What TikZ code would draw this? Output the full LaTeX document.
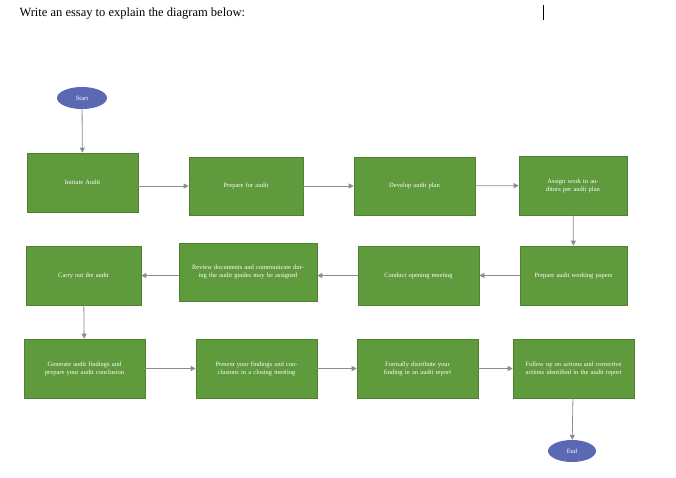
\documentclass[tikz,border=0pt]{standalone}
\usepackage{fontspec}
\setmainfont{Liberation Serif}
\usetikzlibrary{arrows.meta,shapes.geometric}
\definecolor{gbox}{HTML}{5F9A3D}
\definecolor{gedge}{HTML}{4E8230}
\definecolor{oval}{HTML}{5B69B5}
\definecolor{arr}{HTML}{8C8C8C}
\tikzset{x=1pt,y=-1pt,
 boxst/.style={fill=gbox,draw=gedge,line width=0.6pt,text=white,font=\fontsize{6.5}{8}\selectfont,align=center,inner sep=1pt},
 ovalst/.style={ellipse,fill=oval,draw=none,text=white,font=\fontsize{6.5}{8}\selectfont,minimum width=50pt,minimum height=22pt,inner sep=0pt},
 arrst/.style={draw=arr,line width=0.8pt,-{Triangle[length=5pt,width=5pt]}}}
\newcommand{\bx}[6]{\node[boxst,minimum width=#4pt,minimum height=#5pt,text width=#4pt-8pt] (#1) at (#2,#3) {#6};}
\begin{document}
\begin{tikzpicture}
\useasboundingbox (0,0) rectangle (676,477);
\node[anchor=west,font=\fontsize{12.5}{14}\selectfont] (title) at (16,14) {Write an essay to explain the diagram below:};
\draw[line width=0.6pt] (543,5) -- (543,20);
\node[ovalst] (start) at (82,98) {Start};
\bx{a}{82.5}{182.5}{111}{59}{Initiate Audit}
\bx{b}{246}{186}{114}{58}{Prepare for audit}
\bx{c}{414.5}{186}{121}{58}{Develop audit plan}
\bx{d}{573}{185.5}{108}{59}{Assign work to auditors per audit plan}
\bx{e}{573.5}{275.5}{107}{59}{Prepare audit working papers}
\bx{f}{418.5}{275.5}{121}{59}{Conduct opening meeting}
\bx{g}{248}{272}{138}{58}{Review documents and communicate during the audit guides may be assigned}
\bx{h}{83.5}{275.5}{115}{59}{Carry out the audit}
\bx{i}{84.5}{368.5}{121}{59}{Generate audit findings and prepare your audit conclusion}
\bx{j}{256.5}{368.5}{121}{59}{Present your findings and conclusions in a closing meeting}
\bx{k}{417.5}{368.5}{121}{59}{Formally distribute your finding in an audit report}
\bx{l}{573.5}{368.5}{121}{59}{Follow up on actions and corrective actions identified in the audit report}
\node[ovalst,minimum width=48pt] (end) at (572,451) {End};
\draw[arrst] (start) -- (a);
\draw[arrst] (a.east |- b.west) -- (b.west);
\draw[arrst] (b) -- (c);
\draw[arrst] (c) -- (d);
\draw[arrst] (d) -- (e);
\draw[arrst] (e) -- (f);
\draw[arrst] (f.west) -- (f.west -| g.east);
\draw[arrst] (g.west |- h.east) -- (h.east);
\draw[arrst] (h) -- (i);
\draw[arrst] (i) -- (j);
\draw[arrst] (j) -- (k);
\draw[arrst] (k) -- (l);
\draw[arrst] (l) -- (end);
\end{tikzpicture}
\end{document}
